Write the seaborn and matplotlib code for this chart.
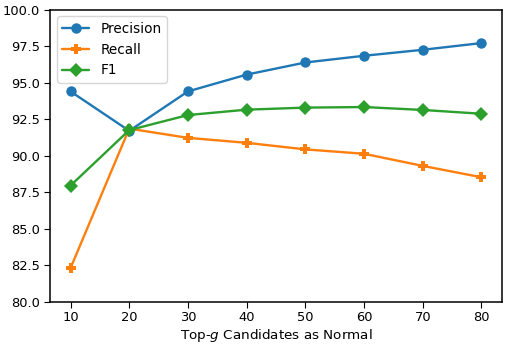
import matplotlib
matplotlib.use("Agg")
import matplotlib.pyplot as plt
import seaborn as sns
import pandas as pd

top_g = [10, 20, 30, 40, 50, 60, 70, 80]
precision = [94.4, 91.7, 94.4, 95.55, 96.38, 96.84, 97.25, 97.71]
recall = [82.3, 91.85, 91.22, 90.88, 90.43, 90.13, 89.3, 88.52]
f1 = [87.95, 91.75, 92.78, 93.15, 93.29, 93.33, 93.13, 92.87]
y_ticks = [80.0, 82.5, 85.0, 87.5, 90.0, 92.5, 95.0, 97.5, 100.0]

sns.set_style("ticks")
plt.rcParams["font.family"] = ["DejaVu Sans"]
plt.rcParams["text.color"] = "black"
plt.rcParams["axes.labelcolor"] = "black"
plt.rcParams["xtick.color"] = "black"
plt.rcParams["ytick.color"] = "black"

df = pd.DataFrame({
    "g": top_g * 3,
    "value": precision + recall + f1,
    "metric": ["Precision"] * 8 + ["Recall"] * 8 + ["F1"] * 8,
})

fig = plt.figure(figsize=(5.06, 3.44), dpi=100)
ax = fig.add_axes([0.0988, 0.123, 0.8932, 0.849])

palette = {"Precision": "#1f77b4", "Recall": "#ff7f0e", "F1": "#2ca02c"}
markers = {"Precision": "o", "Recall": "P", "F1": "D"}
sns.lineplot(data=df, x="g", y="value", hue="metric", style="metric",
             palette=palette, markers=markers, dashes=False, markersize=7.5,
             markeredgewidth=0, linewidth=1.7, ax=ax)

ax.set_ylim(80, 100)
ax.set_yticks(y_ticks)
ax.set_yticklabels([f"{v:.1f}" for v in y_ticks])
ax.set_xticks(top_g)
ax.set_xlim(6.5, 83.5)
ax.set_xlabel("Top-$g$ Candidates as Normal", fontsize=9.7, labelpad=2)
ax.set_ylabel("")
ax.tick_params(labelsize=9.4, length=4, color="black", labelcolor="black", pad=3)
for s in ax.spines.values():
    s.set_color("black")
    s.set_linewidth(1.1)

leg = ax.legend(loc="upper left", fontsize=9.8, frameon=True, handlelength=2.0)
leg.get_frame().set_edgecolor("#cccccc")
for t in leg.get_texts():
    t.set_color("black")

fig.savefig("out.png", dpi=100)
